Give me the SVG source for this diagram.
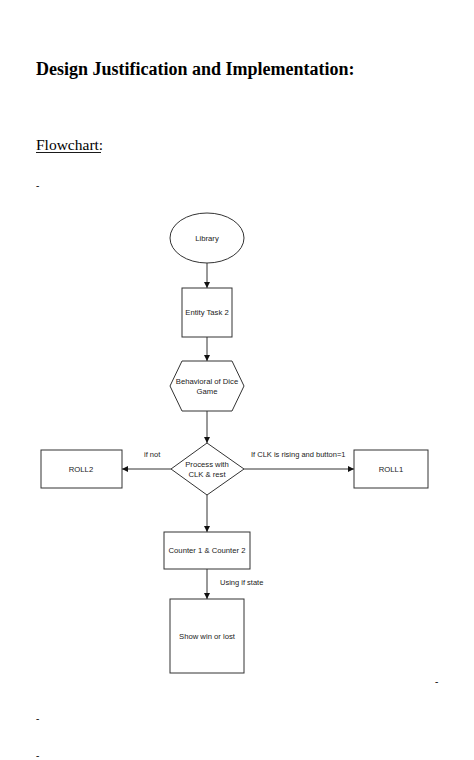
<svg xmlns="http://www.w3.org/2000/svg" width="474" height="760" viewBox="0 0 474 760">
<style>
.doc{font-family:"Liberation Serif","Times New Roman",serif;fill:#000}
.n{fill:#fff;stroke:#333;stroke-width:1}
.t{font-family:"Liberation Sans",Arial,sans-serif;font-size:7.7px;fill:#222;text-anchor:middle}
.l{font-family:"Liberation Sans",Arial,sans-serif;font-size:7.5px;fill:#222}
.c{stroke:#333;stroke-width:1;fill:none;marker-end:url(#ah)}
</style>
<defs>
<marker id="ah" viewBox="0 0 10 10" refX="10" refY="5" markerWidth="6" markerHeight="6" orient="auto" markerUnits="userSpaceOnUse">
<path d="M0,0 L10,5 L0,10 z" fill="#111"/>
</marker>
</defs>
<rect width="474" height="760" fill="#fff"/>
<text class="doc" x="36" y="75" font-size="18" font-weight="bold">Design Justification and Implementation:</text>
<text class="doc" x="36" y="150" font-size="15.5">Flowchart:</text>
<line x1="36" y1="152.5" x2="101" y2="152.5" stroke="#000" stroke-width="0.9"/>
<text class="doc" x="36" y="189" font-size="10">-</text>
<text class="doc" x="435" y="685" font-size="10">-</text>
<text class="doc" x="36" y="722" font-size="10">-</text>
<text class="doc" x="36" y="759" font-size="10">-</text>
<g id="connectors">
<line class="c" x1="207" y1="263" x2="207" y2="288"/>
<line class="c" x1="207" y1="337" x2="207" y2="361"/>
<line class="c" x1="207" y1="411" x2="207" y2="443"/>
<line class="c" x1="171" y1="469" x2="122" y2="469"/>
<line class="c" x1="244" y1="469" x2="354" y2="469"/>
<line class="c" x1="207" y1="495" x2="207" y2="532"/>
<line class="c" x1="207" y1="569" x2="207" y2="599"/>
<text class="l" x="144" y="457">if not</text>
<text class="l" x="251" y="457">If  CLK is rising and button=1</text>
<text class="l" x="220" y="585">Using if state</text>
</g>
<g id="library"><ellipse class="n" cx="207" cy="238" rx="37" ry="25"/><text class="t" x="207" y="241">Library</text></g>
<g id="entity"><rect class="n" x="182" y="288" width="50" height="49"/><text class="t" x="207" y="315">Entity Task 2</text></g>
<g id="behavioral"><polygon class="n" points="170,386 182,361 232,361 244,386 232,411 182,411"/><text class="t" x="207" y="384">Behavioral of Dice</text><text class="t" x="207" y="394">Game</text></g>
<g id="process"><polygon class="n" points="207,443 244,469 207,495 171,469"/><text class="t" x="207" y="467">Process with</text><text class="t" x="207" y="477">CLK &amp; rest</text></g>
<g id="roll2"><rect class="n" x="41" y="450" width="81" height="38"/><text class="t" x="81" y="472">ROLL2</text></g>
<g id="roll1"><rect class="n" x="354" y="450" width="74" height="38"/><text class="t" x="391" y="472">ROLL1</text></g>
<g id="counter"><rect class="n" x="164" y="532" width="86" height="37"/><text class="t" x="207" y="553">Counter 1 &amp; Counter 2</text></g>
<g id="show"><rect class="n" x="170" y="599" width="74" height="74"/><text class="t" x="207" y="639">Show win or lost</text></g>
</svg>
